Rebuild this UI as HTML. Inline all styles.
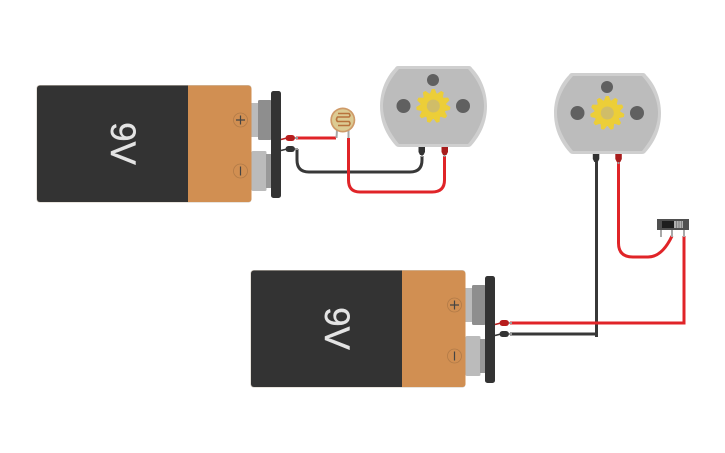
<!DOCTYPE html>
<html>
<head>
<meta charset="utf-8">
<style>
html,body{margin:0;padding:0;background:#fff;width:725px;height:453px;overflow:hidden}
svg{display:block}
text{font-family:"Liberation Sans",sans-serif}
</style>
</head>
<body>
<svg width="725" height="453" viewBox="0 0 725 453" xmlns="http://www.w3.org/2000/svg">
<defs>
<g id="bat">
  <rect x="36.500" y="85" width="215" height="117.500" rx="3" fill="#d0c8bd"/>
  <path d="M40 85.500H188V202H40a3 3 0 0 1-3-3V88.500a3 3 0 0 1 3-3z" fill="#333"/>
  <path d="M188 85.500H248a3.500 3.500 0 0 1 3.500 3.500V199a3 3 0 0 1-3 3H188z" fill="#d18f52"/>
  <rect x="251.500" y="103" width="7" height="34" fill="#bbb"/>
  <rect x="258" y="100" width="13.500" height="40" rx="1.500" fill="#8e8e8e"/>
  <rect x="251.500" y="151" width="15" height="40" rx="1.500" fill="#bbb"/>
  <rect x="266" y="154" width="5.500" height="34" fill="#999"/>
  <rect x="271" y="91" width="10" height="107" rx="2.500" fill="#333"/>
  <circle cx="240.500" cy="120" r="7" fill="#d18f52" stroke="#b27b48" stroke-width=".8"/>
  <circle cx="240.500" cy="171" r="7" fill="#d18f52" stroke="#b27b48" stroke-width=".8"/>
  <path d="M236 120h9M240.500 115.500v9M240.500 166.500v9" stroke="#444" stroke-width="1.200" fill="none"/>
</g>
<g id="tooth"><path d="M-3.200 -12L-1.300 -16.700H1.300L3.200 -12Z" fill="#ecce38" stroke="#ecce38" stroke-width=".6" stroke-linejoin="round"/></g>
<g id="motor">
  <path d="M398 66H469Q471 66 472 68C481 77 487 91 487 106C487 122 481 135 471 146Q470 147 468 147H399Q397 147 396 146C386 135 380 122 380 106C380 91 386 77 395 68Q396 66 398 66Z" fill="#cfcfcf"/>
  <path d="M399 69H468C478 80 484 93 484 106C484 119 478 132 468 144H399C389 132 383 119 383 106C383 93 389 80 399 69Z" fill="#bcbcbc"/>
  <circle cx="433" cy="80" r="6" fill="#606060"/>
  <circle cx="403.500" cy="106" r="7" fill="#606060"/>
  <circle cx="463" cy="106" r="7" fill="#606060"/>
  <g transform="translate(433.300,106)">
    <circle r="13" fill="#ecce38"/>
    <use href="#tooth"/>
    <use href="#tooth" transform="rotate(32.700)"/>
    <use href="#tooth" transform="rotate(65.500)"/>
    <use href="#tooth" transform="rotate(98.200)"/>
    <use href="#tooth" transform="rotate(130.900)"/>
    <use href="#tooth" transform="rotate(163.600)"/>
    <use href="#tooth" transform="rotate(196.400)"/>
    <use href="#tooth" transform="rotate(229.100)"/>
    <use href="#tooth" transform="rotate(261.800)"/>
    <use href="#tooth" transform="rotate(294.500)"/>
    <use href="#tooth" transform="rotate(327.300)"/>
    <circle r="6.500" fill="#d0bd68"/>
  </g>
</g>
</defs>

<use href="#bat"/>
<use href="#bat" x="214" y="185"/>
<use href="#motor"/>
<use href="#motor" x="174" y="7"/>

<text transform="translate(111,143.500) rotate(90)" text-anchor="middle" font-size="35" fill="#e4e4e4" stroke="#e4e4e4" stroke-width=".4">9V</text>
<text transform="translate(325,328.500) rotate(90)" text-anchor="middle" font-size="35" fill="#e4e4e4" stroke="#e4e4e4" stroke-width=".4">9V</text>

<g fill="none" stroke-width="3">
  <path d="M297 149V160Q297 172 309 172H410Q422 172 422 160V156" stroke="#383838"/>
  <path d="M348.500 138V180Q348.500 192 360 192H432Q444.500 192 444.500 180V156" stroke="#e02428"/>
  <path d="M296 138H336" stroke="#e02428"/>
  <path d="M596.500 162V337" stroke="#383838"/>
  <path d="M510 334H598" stroke="#383838"/>
  <path d="M618.500 162V243Q618.500 257 633 257H648Q662 257 672 236" stroke="#e02428"/>
  <path d="M684 236V323H510" stroke="#e02428"/>
</g>

<!-- connectors -->
<g>
  <path d="M281 139.500L287 138" stroke="#b81d1d" stroke-width="1.500"/>
  <rect x="285.500" y="135" width="9.500" height="6" rx="3" fill="#b81d1d"/>
  <path d="M281 150.500L287 149" stroke="#333" stroke-width="1.500"/>
  <rect x="285.500" y="146" width="9.500" height="6" rx="3" fill="#333"/>
  <rect x="295" y="137" width="3" height="2" fill="#999"/>
  <rect x="295" y="148" width="3" height="2" fill="#999"/>
  <path d="M495 324.500L501 323" stroke="#b81d1d" stroke-width="1.500"/>
  <rect x="499.500" y="320" width="9.500" height="6" rx="3" fill="#b81d1d"/>
  <path d="M495 335.500L501 334" stroke="#333" stroke-width="1.500"/>
  <rect x="499.500" y="331" width="9.500" height="6" rx="3" fill="#333"/>
  <rect x="509" y="322" width="3" height="2" fill="#999"/>
  <rect x="509" y="333" width="3" height="2" fill="#999"/>
</g>

<!-- motor terminals -->
<g>
  <path d="M418.500 147h6.500v5l-1.500 3h-3.500l-1.500-3z" fill="#333"/>
  <path d="M441.500 147h6.500v5l-1.500 3h-3.500l-1.500-3z" fill="#a81c1c"/>
  <path d="M592.800 154h6.500v5l-1.500 3h-3.500l-1.500-3z" fill="#333"/>
  <path d="M615.300 154h6.500v5l-1.500 3h-3.500l-1.500-3z" fill="#a81c1c"/>
  <rect x="443.500" y="155" width="2" height="2" fill="#999"/>
  <rect x="421" y="155" width="2" height="2" fill="#999"/>
  <rect x="617.500" y="162" width="2" height="2" fill="#999"/>
</g>

<!-- LDR -->
<path d="M337 130L336.500 138M348.500 130V138" stroke="#a8a8a8" stroke-width="2" fill="none"/>
<circle cx="342.800" cy="120" r="12.500" fill="#cf9a68"/>
<circle cx="342.800" cy="120" r="10.800" fill="#dccb93"/>
<path d="M338 113.500H349Q351 115.500 349 117H337.500Q335.500 119.500 337.500 121.500H349Q351 123.500 349 125.500H338" fill="none" stroke="#b8733c" stroke-width="1.600"/>

<!-- Switch -->
<rect x="657" y="219" width="32" height="11" fill="#4f4f4f"/>
<rect x="662" y="221" width="12" height="7" fill="#1e1e1e"/>
<rect x="674" y="221" width="9" height="7" fill="#b0b0b0"/>
<path d="M676.500 221v7M679 221v7M681.500 221v7" stroke="#777" stroke-width=".8"/>
<path d="M661 230v7M672 230v7M684 230v7" stroke="#a8a8a8" stroke-width="2" fill="none"/>
</svg>
</body>
</html>
